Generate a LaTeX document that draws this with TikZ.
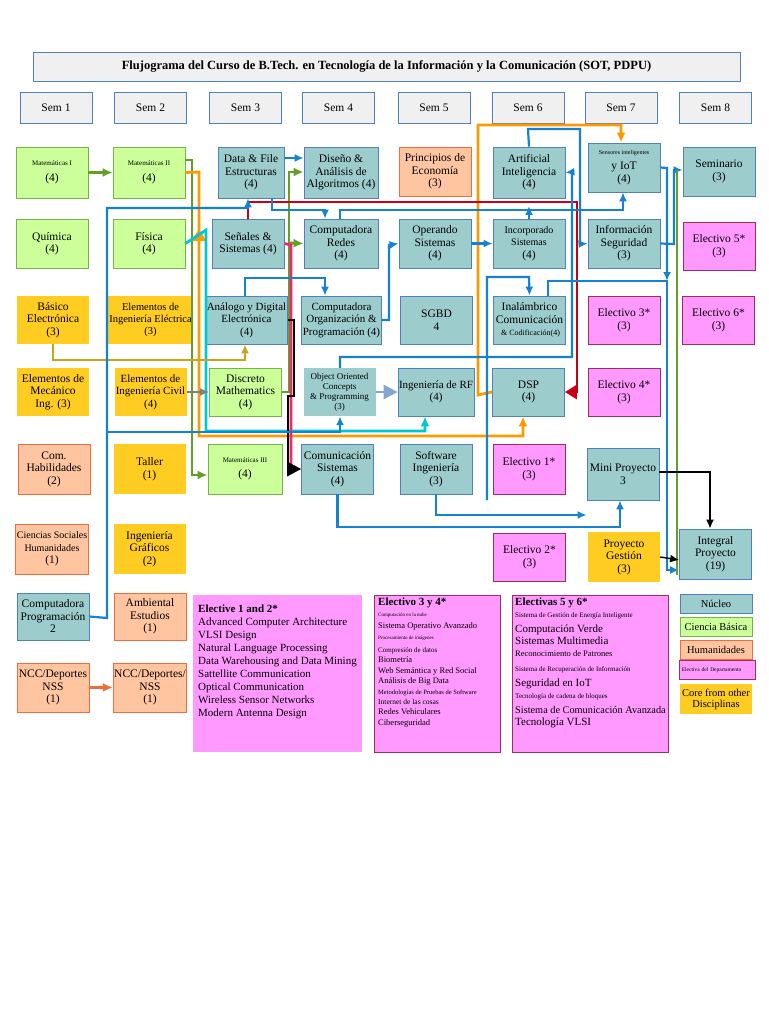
\documentclass[tikz,border=0pt]{standalone}
\usepackage{fontspec}
\setmainfont{Liberation Serif}
\usetikzlibrary{arrows.meta}
\definecolor{coreF}{RGB}{156,204,204}
\definecolor{coreD}{RGB}{79,129,189}
\definecolor{sciF}{RGB}{204,255,153}
\definecolor{sciD}{RGB}{119,179,75}
\definecolor{humF}{RGB}{255,197,160}
\definecolor{humD}{RGB}{242,107,59}
\definecolor{eleF}{RGB}{255,153,255}
\definecolor{eleD}{RGB}{155,45,95}
\definecolor{othF}{RGB}{255,204,34}
\definecolor{semF}{RGB}{240,240,240}
\definecolor{lnB}{RGB}{20,130,210}
\definecolor{lnO}{RGB}{255,153,0}
\definecolor{lnR}{RGB}{200,0,20}
\definecolor{lnG}{RGB}{100,160,40}
\definecolor{lnC}{RGB}{0,200,210}
\definecolor{lnP}{RGB}{240,40,110}
\begin{document}
\begin{tikzpicture}
    [x=1pt, y=-1pt, font=\fontsize{11.5}{12.5}\selectfont,
    every node/.style={rectangle, align=center, inner sep=1pt},
    bx/.style 2 args={minimum width=#1pt, minimum height=#2pt},
    sem/.style={fill=semF, draw=coreD, thick, bx={72}{31}},
    core/.style={fill=coreF, draw=coreD, thick},
    sci/.style={fill=sciF, draw=sciD, thick},
    hum/.style={fill=humF, draw=humD, thick},
    ele/.style={fill=eleF, draw=eleD, thick},
    oth/.style={fill=othF},
    ln/.style={line width=2.8pt, -{Latex[length=10pt,width=9pt]}},
    thinln/.style={line width=2.2pt, -{Latex[length=9pt,width=8pt]}},
    nohead/.style={line width=2.8pt}
    ]
    \useasboundingbox (0,0) rectangle (768,1024);
    \node [fill=semF, draw=coreD, thick, bx={707}{29}, font=\bfseries\fontsize{12.5}{14}\selectfont] (title) at (386.5,66.5)
        {Flujograma del Curso de B.Tech. en Tecnología de la Información y la Comunicación (SOT, PDPU)};
    % semesters
    \foreach \i/\x in {1/56,2/150.5,3/245.5,4/338.5,5/434,6/528,7/621,8/715.5}
        \node [sem] (s\i) at (\x,107.5) {Sem \i};
    % row 1
    \node [sci, bx={72}{51}] (mat1) at (52,172.5) {{\fontsize{7}{8}\selectfont Matemáticas I}\\[3pt](4)};
    \node [sci, bx={72}{51}] (mat2) at (149,172.5) {{\fontsize{7}{8}\selectfont Matemáticas II}\\[3pt](4)};
    \node [core, bx={66}{51}] (dfs) at (251,172.5) {Data \& File\\Estructuras\\(4)};
    \node [core, bx={74}{51}] (daa) at (341,172.5) {Diseño \&\\Análisis de\\Algoritmos (4)};
    \node [hum, bx={72}{49}] (eco) at (435,171.5) {Principios de\\Economía\\(3)};
    \node [core, bx={72}{51}] (ai) at (529,172.5) {Artificial\\Inteligencia\\(4)};
    \node [core, bx={72}{49}] (iot) at (624,167.5) {{\fontsize{6}{7}\selectfont Sensores inteligentes}\\[3pt]y IoT\\(4)};
    \node [core, bx={72}{49}] (sem) at (719,171.5) {Seminario\\(3)};
    % row 2
    \node [sci, bx={72}{49}] (qui) at (52,243.5) {Química\\(4)};
    \node [sci, bx={72}{49}] (fis) at (149,243.5) {Física\\(4)};
    \node [core, bx={72}{49}] (sys) at (248,243.5) {Señales \&\\Sistemas (4)};
    \node [core, bx={74}{49}] (net) at (341,243.5) {Computadora\\Redes\\(4)};
    \node [core, bx={72}{49}] (os) at (435,243.5) {Operando\\Sistemas\\(4)};
    \node [core, bx={72}{49}] (emb) at (529,243.5) {{\fontsize{10}{11}\selectfont Incorporado}\\{\fontsize{10}{11}\selectfont Sistemas}\\(4)};
    \node [core, bx={72}{49}] (sec) at (624,243.5) {Información\\Seguridad\\(3)};
    \node [ele, bx={72}{48}] (e5) at (719,246) {Electivo 5*\\(3)};
    % row 3
    \node [oth, bx={72}{48}] (bel) at (53,320) {Básico\\Electrónica\\(3)};
    \node [oth, bx={72}{48}, font=\fontsize{10.5}{12}\selectfont] (eee) at (150.5,320) {Elementos de\\Ingeniería Eléctrica\\(3)};
    \node [core, bx={72}{48}, font=\fontsize{11}{12.5}\selectfont] (ade) at (246.5,320) {Análogo y Digital\\Electrónica\\(4)};
    \node [core, bx={74}{48}, font=\fontsize{11}{12.5}\selectfont] (coa) at (341.5,320) {Computadora\\Organización \&\\Programación (4)};
    \node [core, bx={72}{48}] (dbms) at (436.5,320) {SGBD\\4};
    \node [core, bx={72}{48}] (wcc) at (529.5,320) {Inalámbrico\\Comunicación\\{\fontsize{8}{9}\selectfont\ \& Codificación(4)}};
    \node [ele, bx={72}{48}] (e3) at (624,320) {Electivo 3*\\(3)};
    \node [ele, bx={72}{48}] (e6) at (718.5,320) {Electivo 6*\\(3)};
    % row 4
    \node [oth, bx={72}{48}] (mec) at (53,392) {Elementos de\\Mecánico\\Ing. (3)};
    \node [oth, bx={72}{48}, font=\fontsize{11}{12.5}\selectfont] (civ) at (150.5,392) {Elementos de\\Ingeniería Civil\\(4)};
    \node [sci, bx={72}{48}] (dm) at (245.5,392) {Discreto\\Mathematics\\(4)};
    \node [fill=coreF, bx={72}{48}, font=\fontsize{9}{10}\selectfont] (oop) at (339.5,392) {Object Oriented\\Concepts\\\& Programming\\(3)};
    \node [core, bx={72}{48}, font=\fontsize{11}{12.5}\selectfont] (rf) at (436,392) {Ingeniería de RF\\(4)};
    \node [core, bx={72}{48}] (dsp) at (528.5,392) {DSP\\(4)};
    \node [ele, bx={72}{48}] (e4) at (624,392) {Electivo 4*\\(3)};
    % row 5
    \node [hum, bx={72}{50}] (com) at (54,469) {Com.\\Habilidades\\(2)};
    \node [oth, bx={72}{50}] (tal) at (149.5,469) {Taller\\(1)};
    \node [sci, bx={74}{50}] (mat3) at (245,469) {{\fontsize{7}{8}\selectfont Matemáticas III}\\[3pt](4)};
    \node [core, bx={72}{50}] (cs) at (337.5,469) {Comunicación\\Sistemas\\(4)};
    \node [core, bx={72}{50}] (se) at (436,469) {Software\\Ingeniería\\(3)};
    \node [ele, bx={72}{50}] (e1) at (529,469) {Electivo 1*\\(3)};
    \node [core, bx={72}{52}] (mini) at (623,474) {Mini Proyecto\\3};
    % row 6
    \node [hum, bx={72}{50}] (soc) at (52,549) {{\fontsize{10}{11}\selectfont Ciencias Sociales}\\{\fontsize{10}{11}\selectfont Humanidades}\\(1)};
    \node [oth, bx={72}{50}] (gra) at (149.5,549) {Ingeniería\\Gráficos\\(2)};
    \node [ele, bx={72}{48}] (e2) at (529.5,557) {Electivo 2*\\(3)};
    \node [oth, bx={72}{50}] (pm) at (624,557) {Proyecto\\Gestión\\(3)};
    \node [core, bx={72}{50}] (proj) at (715.5,554) {Integral\\Proyecto\\(19)};
    % row 7, 8
    \node [core, bx={72}{47}] (cp) at (53,616.5) {Computadora\\Programación\\2};
    \node [hum, bx={72}{47}] (env) at (150,616.5) {Ambiental\\Estudios\\(1)};
    \node [hum, bx={72}{49}] (ncc1) at (53,687.5) {NCC/Deportes\\NSS\\(1)};
    \node [hum, bx={72}{49}] (ncc2) at (150,687.5) {NCC/Deportes/\\NSS\\(1)};
    % electives
    \fill [eleF] (193,595) rectangle (362,752);
    \filldraw [fill=eleF, draw=eleD, thick] (374,595) rectangle (500,752);
    \filldraw [fill=eleF, draw=eleD, thick] (512,595) rectangle (668,752);
    \node [align=left, anchor=north west, font=\fontsize{11}{12.9}\selectfont] (el12) at (197,604)
        {\textbf{Elective 1 and 2*}\\Advanced Computer Architecture\\VLSI Design\\Natural Language Processing\\Data Warehousing and Data Mining\\Sattellite Communication\\Optical Communication\\Wireless Sensor Networks\\Modern Antenna Design};
    \node [align=left, anchor=north west, font=\fontsize{8.5}{10.4}\selectfont] (el34) at (377,597)
        {{\bfseries\fontsize{11}{12}\selectfont Electivo 3 y 4*}\\{\fontsize{5}{6}\selectfont Computación en la nube}\\[2pt]Sistema Operativo Avanzado\\{\fontsize{5}{6}\selectfont Procesamiento de imágenes}\\[3pt]{\fontsize{7}{8}\selectfont Compresión de datos}\\Biometría\\Web Semántica y Red Social\\Análisis de Big Data\\{\fontsize{6.5}{8}\selectfont Metodologías de Pruebas de Software}\\{\fontsize{7.5}{8}\selectfont Internet de las cosas}\\Redes Vehiculares\\Ciberseguridad};
    \node [align=left, anchor=north west, font=\fontsize{11}{12}\selectfont] (el56) at (514,597)
        {\textbf{Electivas 5 y 6*}\\{\fontsize{7}{8}\selectfont Sistema de Gestión de Energía Inteligente}\\[3pt]Computación Verde\\Sistemas Multimedia\\{\fontsize{8.5}{9}\selectfont Reconocimiento de Patrones}\\[3pt]{\fontsize{7}{8}\selectfont Sistema de Recuperación de Información}\\[3pt]Seguridad en IoT\\{\fontsize{7}{8}\selectfont Tecnología de cadena de bloques}\\[3pt]{\fontsize{10.3}{12}\selectfont Sistema de Comunicación Avanzada}\\Tecnología VLSI};
    % legend
    \node [core, bx={72}{19}, font=\fontsize{10.5}{11}\selectfont] (lg1) at (716,603.5) {Núcleo};
    \node [sci, bx={72}{19}, font=\fontsize{10.5}{11}\selectfont] (lg2) at (716,627) {Ciencia Básica};
    \node [hum, bx={72}{19}, font=\fontsize{10.5}{11}\selectfont] (lg3) at (716,650) {Humanidades};
    \node [ele, bx={72}{19}, font=\fontsize{5.5}{6}\selectfont, align=left, text width=74pt] (lg4) at (717,670) {\ Electiva del Departamento};
    \node [oth, bx={72}{30}, font=\fontsize{10.5}{11}\selectfont] (lg5) at (716,699) {Core from other\\Disciplinas};
    % connectors
    \draw [ln, lnG] (mat1) -- (mat2);
    \draw [ln, lnG] (mat2.east |- 0,160) -- (192,160) -- (192,475) -- (mat3.west |- 0,475);
    \draw [ln, lnG] (dm.east) -- (289,392) -- (289,172) -- (daa.west |- 0,172);
    \draw [ln, lnG] (289,243) -- (net.west);
    \draw [ln, lnO] (mat2.east) -- (199,172) -- (199,436) -- (523,436) -- (dsp.south -| 523,0);
    \draw [nohead, lnO, -{Triangle[length=12pt,width=14pt]}] (199,250) -- (199,229);
    \draw [ln, lnO] (dsp.west) -- (478,395) -- (478,125) -- (621,125) -- (iot.north -| 621,0);
    \draw [ln, lnC] (fis.east) -- (206,230) -- (206,431) -- (425,431) -- (rf.south -| 425,0);
    \draw [ln, lnR, -{Triangle[length=12pt,width=14pt]}] (sys.north) -- (248,202) -- (577,202) -- (577,392) -- (dsp.east);
    \draw [ln, lnP, -{Triangle[length=14pt,width=14pt]}] (sys.east) -- (291,245) -- (291,469) -- (cs.west);
    \draw [ln, black, -{Triangle[length=14pt,width=14pt]}] (ade.east) -- (294,320) -- (294,396) -- (288,396) -- (288,469) -- (cs.west);
    \draw [thinln, othF!80!black] (bel.south) -- (53,360) -- (245,360) -- (ade.south -| 245,0);
    \draw [thinln, gray] (civ.east) -- (dm.west);
    \draw [thinln, lnB] (dfs.east |- 0,158) -- (daa.west |- 0,158);
    \draw [thinln, lnB] (dfs.south -| 272,0) -- (272,210) -- (325,210) -- (net.north -| 325,0);
    \draw [thinln, lnB] (cp.east) -- (107,618) -- (107,208) -- (248,208) -- (dfs.south -| 248,0);
    \draw [thinln, lnB] (107,432) -- (340,432) -- (oop.south -| 340,0);
    \draw [thinln, lnB] (ade.north -| 245,0) -- (245,278) -- (325,278) -- (coa.north -| 325,0);
    \draw [thinln, lnB] (coa.east) -- (389,320) -- (389,245) -- (os.west);
    \draw [thinln, lnB] (os.east) -- (emb.west);
    \draw [thinln, lnB] (net.north -| 340,0) -- (340,210) -- (623,210) -- (iot.south -| 623,0);
    \draw [thinln, lnB] (emb.north) -- (529,206);
    \draw [thinln, lnB] (oop.north -| 340,0) -- (340,357) -- (572,357) -- (572,172) -- (ai.east);
    \draw [thinln, lnB] (ai.north) -- (528,129) -- (580,129) -- (580,244) -- (sec.west);
    \draw [thinln, lnB] (487,500) -- (487,277) -- (529,277) -- (wcc.north);
    \draw [thinln, lnB] (wcc.north -| 548,0) -- (548,281) -- (667,281) -- (667,570) -- (proj.west |- 0,570);
    \draw [thinln, lnB] (iot.east) -- (667,168) -- (667,281);
    \draw [thinln, lnB] (sec.east) -- (674,244) -- (674,170) -- (sem.west |- 0,170);
    \draw [line width=2.2pt, lnG] (677,170) -- (677,575);
    \draw [thinln, black, line width=1.4pt] (mini.east |- 0,472) -- (710,472) -- (proj.north -| 710,0);
    \draw [thinln, black, line width=1.4pt] (pm.east) -- (proj.west |- 0,560);
    \draw [thinln, lnB] (cs.south) -- (337.5,527) -- (620,527) -- (mini.south -| 620,0);
    \draw [thinln, lnB] (se.south) -- (436,515) -- (mini.west |- 0,515);
    \draw [ln, coreD!70!white, -{Triangle[length=14pt,width=14pt]}] (oop.east) -- (rf.west);
    \draw [ln, humD] (ncc1) -- (ncc2);
\end{tikzpicture}
\end{document}
